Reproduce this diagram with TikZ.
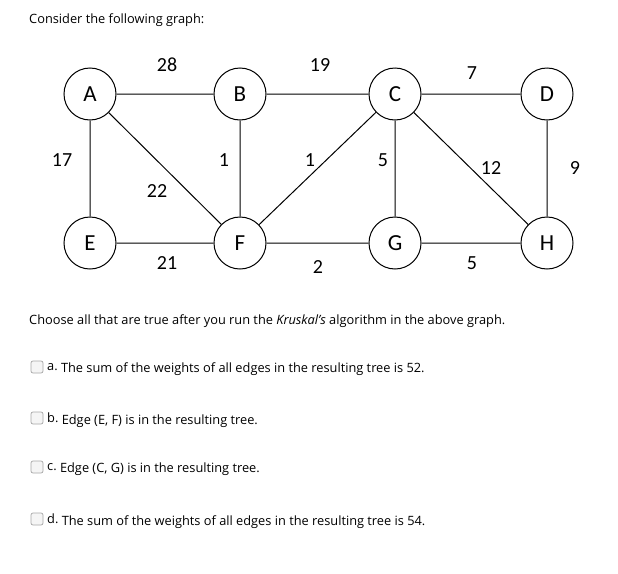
\documentclass[tikz,border=0pt]{standalone}
\usepackage{fontspec}
\setmainfont{Open Sans}
\newfontfamily\gfont{Carlito}
\begin{document}
\begin{tikzpicture}[x=1pt,y=-1pt,
  vert/.style={circle,draw,line width=1pt,minimum size=52pt,inner sep=0pt,font=\gfont\fontsize{23}{23}\selectfont},
  wt/.style={font=\gfont\fontsize{20}{20}\selectfont},
  edge/.style={line width=1pt},
  txt/.style={anchor=west,inner sep=0pt,font=\fontsize{12.8}{13}\selectfont},
  cb/.style={draw=gray!70,fill=gray!8,rounded corners=2pt,minimum size=12pt,inner sep=0pt,line width=0.7pt}]
\useasboundingbox (0,0) rectangle (618,573);
\node[txt] (t0) at (29,20) {Consider the following graph:};
\node[vert] (A) at (90,94) {A};
\node[vert] (B) at (240,94) {B};
\node[vert] (C) at (395,94) {C};
\node[vert] (D) at (547,94) {D};
\node[vert] (E) at (90,243) {E};
\node[vert] (F) at (240,243) {F};
\node[vert] (G) at (395,243) {G};
\node[vert] (H) at (547,243) {H};
\draw[edge] (A)--(B) (B)--(C) (C)--(D) (A)--(E) (A)--(F) (B)--(F) (F)--(C) (C)--(G) (C)--(H) (D)--(H) (E)--(F) (F)--(G) (G)--(H);
\node[wt] (w1) at (167,65) {28};
\node[wt] (w2) at (320,65) {19};
\node[wt] (w3) at (472,73) {7};
\node[wt] (w4) at (62,160) {17};
\node[wt] (w5) at (157,191) {22};
\node[wt] (w6) at (224,160) {1};
\node[wt] (w7) at (310,160) {1};
\node[wt] (w8) at (383,160) {5};
\node[wt] (w9) at (491,168) {12};
\node[wt] (w10) at (575,168) {9};
\node[wt] (w11) at (167,263) {21};
\node[wt] (w12) at (318,267) {2};
\node[wt] (w13) at (472,263) {5};
\node[txt] (q) at (29,321) {Choose all that are true after you run the \textit{Kruskal's} algorithm in the above graph.};
\node[cb] (c1) at (37,367) {};
\node[cb] (c2) at (37,418) {};
\node[cb] (c3) at (37,467) {};
\node[cb] (c4) at (37,519) {};
\node[txt] (a) at (47,369) {\raisebox{2pt}{a.} The sum of the weights of all edges in the resulting tree is 52.};
\node[txt] (b) at (47,420) {\raisebox{2pt}{b.} Edge (E, F) is in the resulting tree.};
\node[txt] (c) at (47,469) {\raisebox{2pt}{c.} Edge (C, G) is in the resulting tree.};
\node[txt] (d) at (47,521) {\raisebox{2pt}{d.} The sum of the weights of all edges in the resulting tree is 54.};
\end{tikzpicture}
\end{document}
